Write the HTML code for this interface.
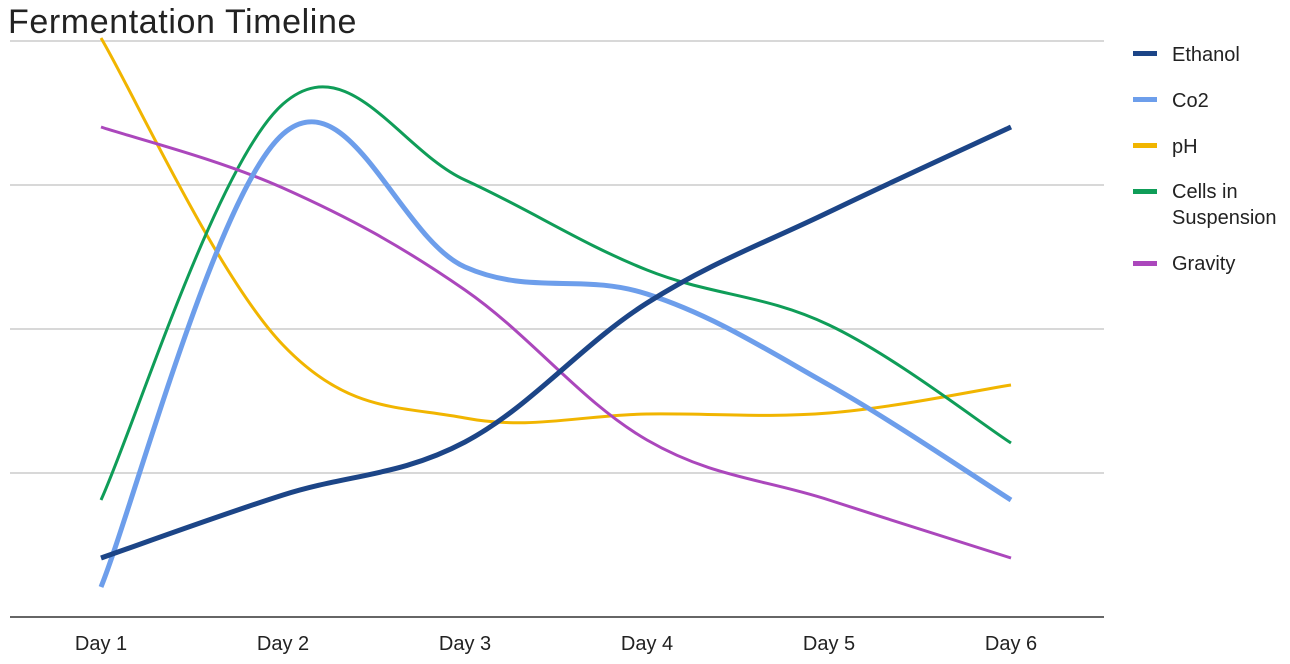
<!DOCTYPE html>
<html><head><meta charset="utf-8"><style>
body{margin:0;background:#fff;}
svg{display:block;font-family:"Liberation Sans",Roboto,sans-serif;}
</style></head><body>
<svg width="1290" height="664" viewBox="0 0 1290 664">
<text x="8" y="33" font-size="34" fill="#222" letter-spacing="0.6">Fermentation Timeline</text>
<g stroke="#ccc" stroke-width="1.5">
<line x1="10" y1="41" x2="1104" y2="41"/>
<line x1="10" y1="185" x2="1104" y2="185"/>
<line x1="10" y1="329" x2="1104" y2="329"/>
<line x1="10" y1="473" x2="1104" y2="473"/>
</g>
<line x1="10" y1="617" x2="1104" y2="617" stroke="#333" stroke-width="1.5"/>
<g font-size="20" fill="#222" text-anchor="middle">
<text x="101" y="650">Day 1</text><text x="283" y="650">Day 2</text><text x="465" y="650">Day 3</text>
<text x="647" y="650">Day 4</text><text x="829" y="650">Day 5</text><text x="1011" y="650">Day 6</text>
</g>
<g fill="none" stroke-linecap="butt" id="lines"></g>
<g font-size="20" fill="#222">
<rect x="1133" y="51" width="24" height="5" fill="#1c4587"/><text x="1172" y="61">Ethanol</text>
<rect x="1133" y="97" width="24" height="5" fill="#6d9eeb"/><text x="1172" y="107">Co2</text>
<rect x="1133" y="143" width="24" height="5" fill="#f1b500"/><text x="1172" y="153">pH</text>
<rect x="1133" y="189" width="24" height="5" fill="#0f9d58"/><text x="1172" y="198">Cells in</text><text x="1172" y="224">Suspension</text>
<rect x="1133" y="261" width="24" height="5" fill="#ab47bc"/><text x="1172" y="270">Gravity</text>
</g>
<script>
var X=[101,283,465,647,829,1011];
var S=[
["#f1b500",3,[38,345,418,414,413,385]],
["#0f9d58",3,[500,104,180,270,325,443]],
["#ab47bc",3,[127,188,290,440,500,558]],
["#6d9eeb",5,[587,134,267,294,385,500]],
["#1c4587",5,[558,495,442,303,212,127]]
];
var g=document.getElementById("lines");
S.forEach(function(s){
 var y=s[2],d="M"+X[0]+","+y[0];
 for(var i=0;i<5;i++){
  var p0=[X[Math.max(i-1,0)],y[Math.max(i-1,0)]],p1=[X[i],y[i]],p2=[X[i+1],y[i+1]],p3=[X[Math.min(i+2,5)],y[Math.min(i+2,5)]];
  var t=0.18;
  var c1=[p1[0]+(p2[0]-p0[0])*t,p1[1]+(p2[1]-p0[1])*t];
  var c2=[p2[0]-(p3[0]-p1[0])*t,p2[1]-(p3[1]-p1[1])*t];
  d+=" C"+c1+" "+c2+" "+p2;
 }
 var p=document.createElementNS("http://www.w3.org/2000/svg","path");
 p.setAttribute("d",d);p.setAttribute("stroke",s[0]);p.setAttribute("stroke-width",s[1]);
 g.appendChild(p);
});
</script>
</svg>
</body></html>
